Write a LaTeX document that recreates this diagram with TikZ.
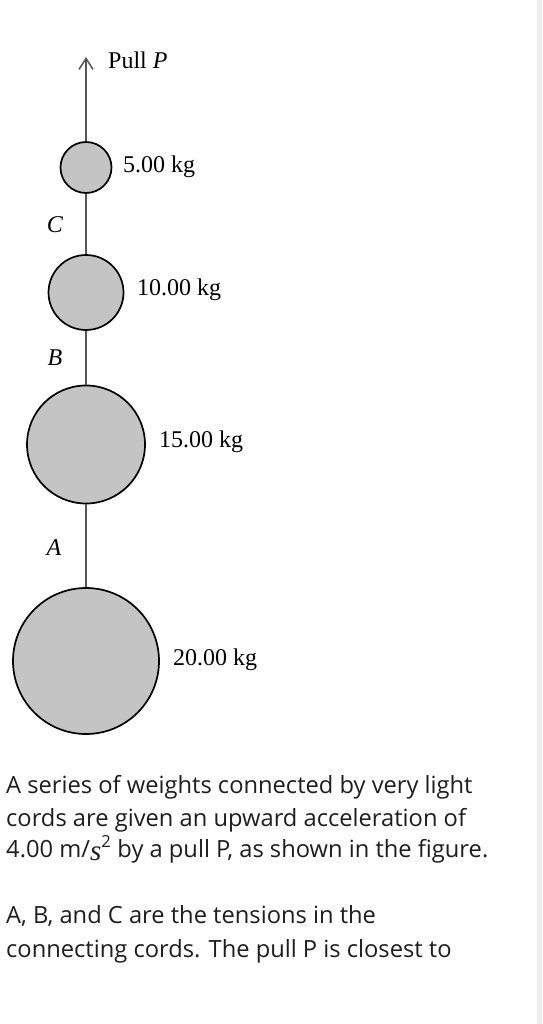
\documentclass[tikz,border=0pt]{standalone}
\usepackage{fontspec}
\setmainfont{Liberation Serif}
\newfontfamily\parafont{Open Sans}
\usetikzlibrary{arrows.meta}
\definecolor{massfill}{HTML}{C4C4C4}
\definecolor{cordcol}{HTML}{555555}
\definecolor{paratext}{HTML}{1E1E1E}
\definecolor{stripcol}{HTML}{EEEEEE}
\tikzset{
  mass/.style={circle, draw=black, line width=1.7pt, fill=massfill, inner sep=0pt, minimum size=#1},
  cord/.style={draw=cordcol, line width=1.5pt},
  masslabel/.style={anchor=west, font=\fontsize{24}{28}\selectfont, inner sep=0pt},
  tenslabel/.style={font=\fontsize{24}{28}\selectfont\itshape, inner sep=0pt},
  paraline/.style={anchor=base west, font=\parafont\fontsize{23.7}{28}\selectfont, text=paratext, inner sep=0pt}
}
\begin{document}
\begin{tikzpicture}[x=1pt,y=-1pt]
\useasboundingbox (0,0) rectangle (542,1024);
\fill[white] (0,0) rectangle (542,1024);
\fill[stripcol] (537,0) rectangle (542,1024);
% masses
\node[mass=51pt] (m1) at (86,167.5) {};
\node[mass=75pt] (m2) at (86,292.5) {};
\node[mass=118pt] (m3) at (86,444.5) {};
\node[mass=146pt] (m4) at (86,661) {};
\coordinate (top) at (86,57);
% cords
\draw[cord, -{Straight Barb[length=11pt,width=14pt,line width=1.5pt]}] (m1.north) -- (top);
\draw[cord] (m1.south) -- (m2.north);
\draw[cord] (m2.south) -- (m3.north);
\draw[cord] (m3.south) -- (m4.north);
% labels
\node[masslabel] (lp) at (108,60) {Pull \textit{P}};
\node[masslabel] (l1) at (123,167) {5.00 kg};
\node[masslabel] (l2) at (137,290) {10.00 kg};
\node[masslabel] (l3) at (159,442) {15.00 kg};
\node[masslabel] (l4) at (173,660) {20.00 kg};
\node[tenslabel] (tc) at (55,225) {C};
\node[tenslabel] (tb) at (55,358) {B};
\node[tenslabel] (ta) at (54,548) {A};
% paragraph
\node[paraline] (p1) at (6,793.5) {A series of weights connected by very light};
\node[paraline] (p2) at (6,826) {cords are given an upward acceleration of};
\node[paraline] (p3) at (6,857) {4.00 m/\raisebox{-0.14em}{\normalfont\itshape\fontsize{29}{30}\selectfont s}\textsuperscript{2} by a pull P, as shown in the figure.};
\node[paraline] (p4) at (6,923.5) {A, B, and C are the tensions in the};
\node[paraline] (p5) at (6,957) {connecting cords. The pull P is closest to};
\end{tikzpicture}
\end{document}
